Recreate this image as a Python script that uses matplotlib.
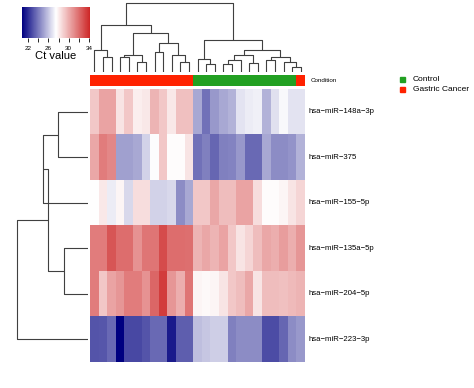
import matplotlib
matplotlib.use("Agg")
import matplotlib.pyplot as plt
import numpy as np
from matplotlib.colors import LinearSegmentedColormap, ListedColormap, Normalize
from matplotlib.patches import Rectangle
import matplotlib.cm as cm

plt.rcParams['font.family'] = ['Liberation Sans', 'DejaVu Sans']

# rows of the heatmap (top to bottom) and Ct values per sample column
mirnas = ["hsa\u2212miR\u2212148a\u22123p", "hsa\u2212miR\u2212375", "hsa\u2212miR\u2212155\u22125p",
          "hsa\u2212miR\u2212135a\u22125p", "hsa\u2212miR\u2212204\u22125p", "hsa\u2212miR\u2212223\u22123p"]

mir148a = [29.2, 30.3, 30.3, 28.3, 29.2, 28.0, 28.2, 29.8, 29.2, 28.2, 29.4, 29.4,
           25.2, 23.8, 24.8, 25.2, 25.5, 26.8, 27.0, 27.1, 25.5, 26.7, 27.3, 26.8, 26.8]
mir375 = [30.2, 31.5, 31.2, 25.0, 25.0, 25.2, 26.3, 27.4, 29.2, 27.6, 27.6, 28.3,
          23.8, 24.2, 23.5, 24.2, 24.3, 24.8, 23.6, 23.6, 25.2, 24.5, 24.5, 24.7, 25.5]
mir155 = [27.5, 28.2, 27.0, 27.8, 26.5, 28.5, 28.5, 26.3, 26.3, 26.5, 24.5, 25.2,
          29.2, 29.2, 30.2, 29.5, 29.5, 30.3, 30.3, 28.5, 27.6, 27.6, 27.8, 28.3, 28.8]
mir135a = [31.5, 31.5, 32.7, 32.0, 32.0, 30.8, 31.7, 31.7, 33.0, 32.0, 32.0, 31.9,
           29.8, 30.2, 29.8, 30.3, 29.2, 28.3, 28.8, 29.5, 30.2, 30.0, 30.5, 30.0, 30.7]
mir204 = [31.5, 29.2, 30.3, 30.7, 31.5, 31.5, 30.8, 32.2, 33.5, 30.7, 30.0, 31.7,
          27.8, 27.7, 27.8, 28.3, 29.2, 29.5, 30.2, 28.3, 29.5, 29.5, 29.4, 29.6, 29.8]
mir223 = [23.0, 23.1, 23.6, 20.8, 22.7, 22.7, 23.0, 23.6, 23.6, 21.5, 23.3, 23.3,
          25.8, 26.0, 26.2, 26.2, 24.2, 24.5, 24.5, 24.5, 22.8, 22.8, 23.5, 24.5, 24.8]

condition = ["Gastric Cancer"] * 12 + ["Control"] * 12 + ["Gastric Cancer"]
groups = ["Control", "Gastric Cancer"]
group_colors = {"Control": "#22A022", "Gastric Cancer": "#FF2200"}

# dendrograms: (left, right, height); leaves are indices
row_tree = ((((0, 1, 30), 2, 45), (3, 4, 24), 40), 5, 71)
col_tree = (((0, (1, 2, 15), 22),
             (((3, 4, 15), (5, 6, 10), 17),
              ((7, 8, 20), (9, (10, 11, 10), 17), 29), 39), 47),
            ((12, (13, 14, 8), 13),
             ((((15, 16, 8), 17, 12), (18, 19, 9), 17),
              ((20, 21, 12), (22, (23, 24, 5), 10), 15), 22), 32), 69)

data = np.array([mir148a, mir375, mir155, mir135a, mir204, mir223])
n_rows, n_cols = data.shape

W, H = 474, 388
fig = plt.figure(figsize=(W / 100, H / 100), dpi=100)


def box(x0, y0, x1, y1):
    return [x0 / W, 1 - y1 / H, (x1 - x0) / W, (y1 - y0) / H]


cmap = LinearSegmentedColormap.from_list("ct", ["#000080", "#FFFFFF", "#CD2626"])
norm = Normalize(vmin=20.8, vmax=34.2)

# main heatmap
ax = fig.add_axes(box(90, 89, 305, 362))
ax.imshow(data, cmap=cmap, norm=norm, aspect="auto", interpolation="nearest",
          extent=(0, n_cols, n_rows, 0))
ax.set_xticks([])
ax.set_yticks([])
for s in ax.spines.values():
    s.set_visible(False)
for i, name in enumerate(mirnas):
    ax.text(n_cols + 0.35, i + 0.5, name, va="center", ha="left", fontsize=5.6)

# condition annotation bar
ax_ann = fig.add_axes(box(90, 75, 305, 86))
codes = [groups.index(c) for c in condition]
ax_ann.imshow([codes], cmap=ListedColormap([group_colors[g] for g in groups]),
              vmin=0, vmax=1, aspect="auto", interpolation="nearest",
              extent=(0, n_cols, 1, 0))
ax_ann.axis("off")
fig.text(311 / W, 1 - 80.5 / H, "Condition", fontsize=4.5, va="center", ha="left")


def draw_tree(a, node, orient):
    if isinstance(node, int):
        return node + 0.5, 0
    left, right, h = node
    p1, h1 = draw_tree(a, left, orient)
    p2, h2 = draw_tree(a, right, orient)
    xs = [p1, p1, p2, p2]
    ys = [h1, h, h, h2]
    if orient == "top":
        a.plot(xs, ys, color="#404040", lw=0.8, solid_capstyle="butt")
    else:
        a.plot(ys, xs, color="#404040", lw=0.8, solid_capstyle="butt")
    return (p1 + p2) / 2, h


ax_cd = fig.add_axes(box(90, 0, 305, 72))
draw_tree(ax_cd, col_tree, "top")
ax_cd.set_xlim(0, n_cols)
ax_cd.set_ylim(0, 72)
ax_cd.axis("off")

ax_rd = fig.add_axes(box(15, 89, 88, 362))
draw_tree(ax_rd, row_tree, "left")
ax_rd.set_xlim(73, 0)
ax_rd.set_ylim(n_rows, 0)
ax_rd.axis("off")

# legend for condition
for k, g in enumerate(groups):
    y = 79.5 + k * 10
    fig.add_artist(Rectangle((400 / W, 1 - (y + 2.5) / H), 5 / W, 5 / H,
                             transform=fig.transFigure, color=group_colors[g]))
    fig.text(413 / W, 1 - y / H, g, fontsize=6, va="center", ha="left")

# colour key
cax = fig.add_axes(box(22, 7, 90, 38))
sm = cm.ScalarMappable(norm=norm, cmap=cmap)
cb = fig.colorbar(sm, cax=cax, orientation="horizontal")
cb.outline.set_visible(False)
cb.set_ticks([22, 24, 26, 28, 30, 32, 34])
cb.set_ticklabels(["22", "", "26", "", "30", "", "34"])
cax.tick_params(labelsize=4.5, length=3, width=0.6, pad=3)
cax.set_xlabel("Ct value", fontsize=8, labelpad=0)

fig.savefig("out.png", dpi=100)
